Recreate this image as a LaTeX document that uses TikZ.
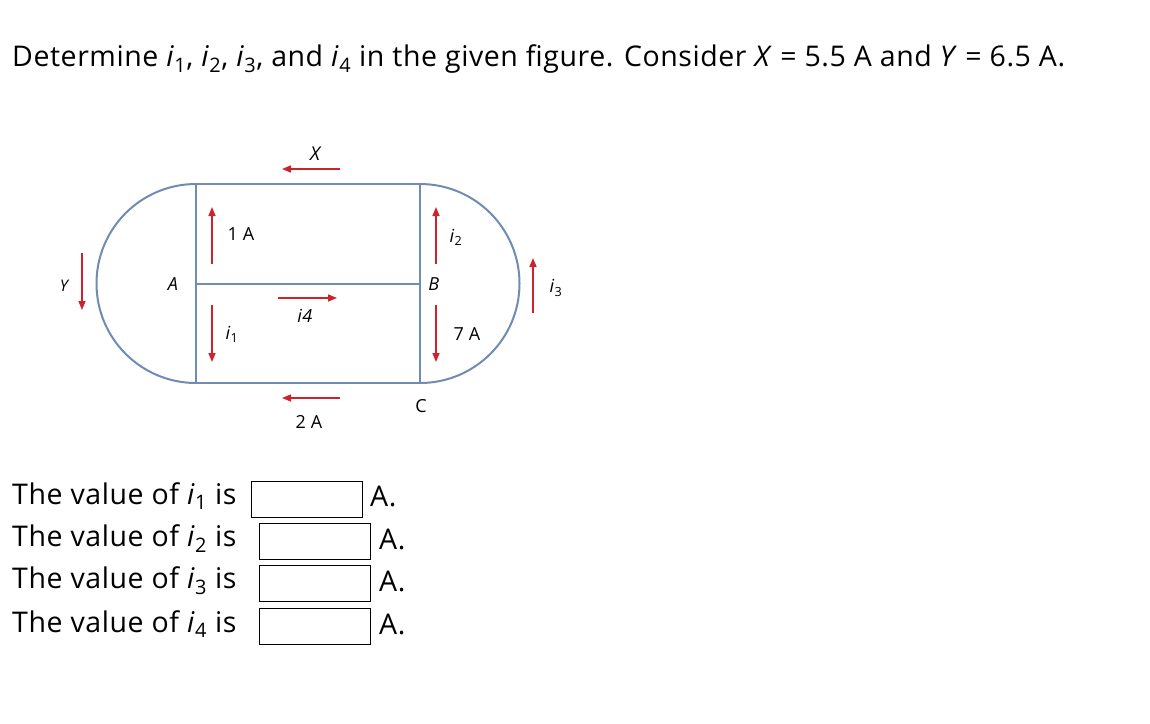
\documentclass[tikz,border=0pt]{standalone}
\usepackage{fontspec}
\setmainfont{Open Sans}[LetterSpace=2]
\setsansfont{Open Sans}
\usetikzlibrary{arrows.meta}
\definecolor{wire}{RGB}{110,140,180}
\definecolor{cur}{RGB}{205,35,45}
\tikzset{
 wireline/.style={draw=wire,line width=2pt},
 curarrow/.style={draw=cur,line width=1.6pt,-{Triangle[length=9pt,width=7pt]}},
 lbl/.style={font=\fontsize{18}{20}\selectfont,inner sep=0pt},
 txt/.style={font=\fontsize{28.5}{32}\selectfont,inner sep=0pt,anchor=west},
 ansbox/.style={draw=black,line width=1pt,minimum width=111pt,minimum height=36pt,inner sep=0pt},
}
\begin{document}
\begin{tikzpicture}[x=1pt,y=-1pt]
\useasboundingbox (0,0) rectangle (1150,723);
% title
\node[txt] (title) at (12,59) {Determine \textit{i}\textsubscript{1}, \textit{i}\textsubscript{2}, \textit{i}\textsubscript{3}, and \textit{i}\textsubscript{4} in the given figure. Consider \textit{X} = 5.5 A and \textit{Y} = 6.5 A.};
% circuit
\coordinate (TL) at (196,184); \coordinate (TR) at (420,184);
\coordinate (BL) at (196,383); \coordinate (BR) at (420,383);
\coordinate (ML) at (196,284); \coordinate (MR) at (420,284);
\draw[wireline] (TL) -- (TR) -- (BR) -- (BL) -- cycle;
\draw[wireline] (ML) -- (MR);
\draw[wireline] (TL) arc[start angle=270,end angle=90,radius=99.5];
\draw[wireline] (TR) arc[start angle=-90,end angle=90,radius=99.5];
% arrows
\draw[curarrow] (340,169) -- (282,169);
\node[lbl,font=\fontsize{19}{20}\selectfont\rmfamily\itshape] (lx) at (315,154) {X};
\draw[curarrow] (212,264) -- (212,207);
\node[lbl] (l1a) at (241,234) {1 A};
\draw[curarrow] (212,305) -- (212,362);
\node[lbl] (li1) at (232,334) {\textit{i}\textsubscript{1}};
\draw[curarrow] (278,298) -- (337,298);
\node[lbl] (li4) at (305,316) {\textit{i4}};
\draw[curarrow] (340,398) -- (282,398);
\node[lbl] (l2a) at (309,422) {2 A};
\node[lbl] (lc) at (421,406) {C};
\node[lbl] (lb) at (434,284) {\textit{B}};
\node[lbl] (la) at (173,284) {\textit{A}};
\draw[curarrow] (436,264) -- (436,207);
\node[lbl] (li2) at (456,237) {\textit{i}\textsubscript{2}};
\draw[curarrow] (436,305) -- (436,362);
\node[lbl] (l7a) at (467,334) {7 A};
\draw[curarrow] (533,313) -- (533,258);
\node[lbl] (li3) at (556,288) {\textit{i}\textsubscript{3}};
\draw[curarrow] (82,253) -- (82,310);
\node[lbl,font=\fontsize{16}{18}\selectfont\rmfamily\itshape] (ly) at (64,286) {Y};
% answers
\node[txt] (q1) at (12,496) {The value of \textit{i}\textsubscript{1} is};
\node[ansbox] (b1) at (306.5,499) {};
\node[txt] (u1) at (370,496) {A.};
\node[txt] (q2) at (12,539) {The value of \textit{i}\textsubscript{2} is};
\node[ansbox] (b2) at (314.5,541) {};
\node[txt] (u2) at (379,539) {A.};
\node[txt] (q3) at (12,581) {The value of \textit{i}\textsubscript{3} is};
\node[ansbox] (b3) at (314.5,583) {};
\node[txt] (u3) at (379,581) {A.};
\node[txt] (q4) at (12,624) {The value of \textit{i}\textsubscript{4} is};
\node[ansbox] (b4) at (314.5,626.5) {};
\node[txt] (u4) at (379,624) {A.};
\end{tikzpicture}
\end{document}
